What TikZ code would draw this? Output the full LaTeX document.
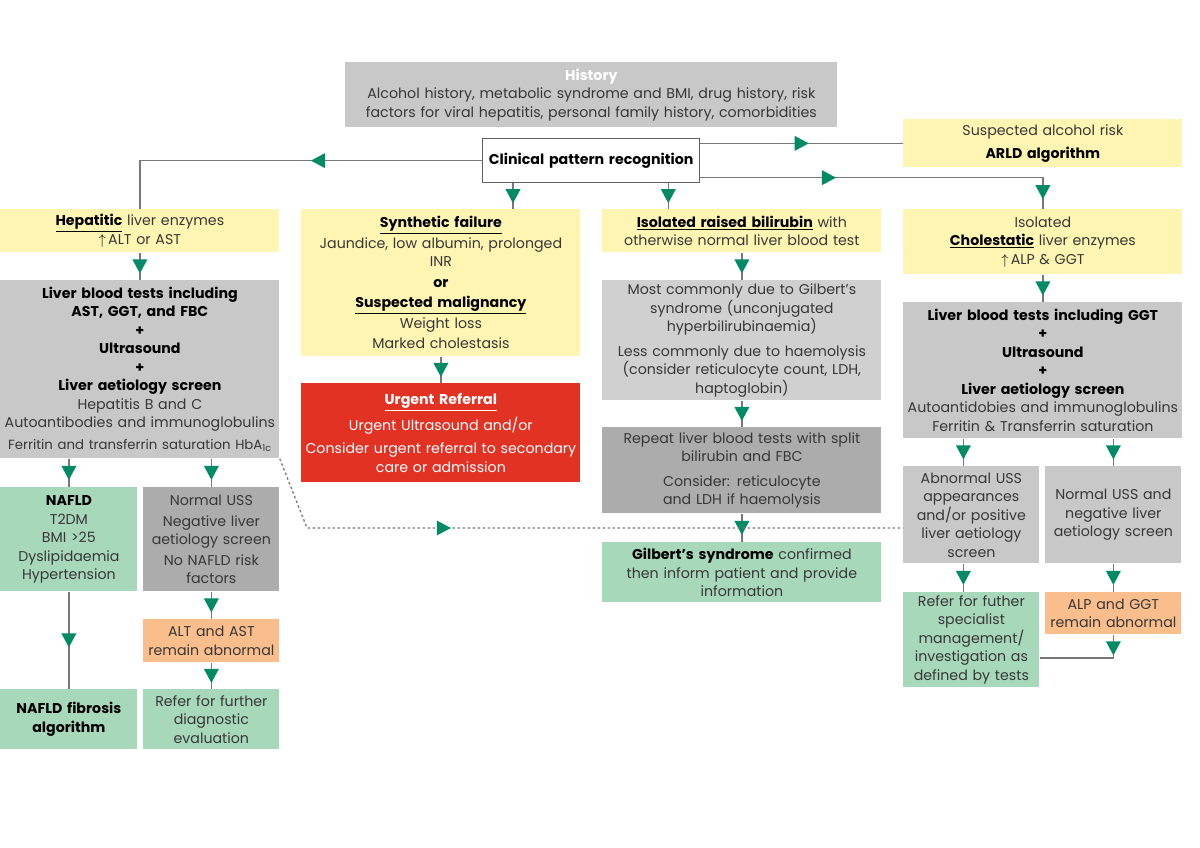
\documentclass[tikz,border=0pt]{standalone}
\usepackage{fontspec}
\setmainfont{Poppins}
\usetikzlibrary{decorations.markings}

\definecolor{boxyellow}{RGB}{255,245,178}
\definecolor{boxgray}{RGB}{200,200,200}
\definecolor{boxlight}{RGB}{208,208,208}
\definecolor{boxdark}{RGB}{172,172,172}
\definecolor{boxgreen}{RGB}{168,216,186}
\definecolor{boxorange}{RGB}{250,190,140}
\definecolor{boxred}{RGB}{226,50,36}
\definecolor{arrowgreen}{RGB}{0,138,102}
\definecolor{linegray}{RGB}{120,120,120}
\definecolor{txtgray}{RGB}{55,55,55}

\newcommand{\bhead}[1]{{\color{black}\bfseries #1}}
\newcommand{\uhead}[1]{{\color{black}\underline{\bfseries #1}}}

\tikzset{every picture/.style={line width=0.75pt}}
\tikzset{
  box/.style={anchor=north west, inner xsep=0pt, inner ysep=2pt, align=center,
    text=txtgray, font=\fontsize{14.2}{18.5}\selectfont},
  ybox/.style={box, fill=boxyellow},
  gbox/.style={box, fill=boxgray},
  lbox/.style={box, fill=boxlight},
  dbox/.style={box, fill=boxdark},
  grbox/.style={box, fill=boxgreen},
  obox/.style={box, fill=boxorange},
  rbox/.style={box, fill=boxred, text=white},
  conn/.style={draw=linegray, line width=1.3pt},
  arrowat/.style={postaction={decorate, decoration={markings,
    mark=at position #1 with {\fill[arrowgreen] (7pt,0) -- (-7pt,7.5pt) -- (-7pt,-7.5pt) -- cycle;}}}},
  flow/.style={conn, arrowat=#1},
  flow/.default=0.5,
  dashconn/.style={conn, dash pattern=on 2.5pt off 2.5pt}
}

\begin{document}
\begin{tikzpicture}[x=1pt,y=1pt,yscale=-1,xscale=1]
\useasboundingbox[fill=white] (0,0) rectangle (1200,848);

% Top row
\node[gbox, text width=492pt, minimum height=65pt] (hist) at (345,62)
  {{\color{white}\bfseries History}\\
   Alcohol history, metabolic syndrome and BMI, drug history, risk\\
   factors for viral hepatitis, personal family history, comorbidities};
\node[box, draw=linegray!80!black, line width=1.3pt, fill=white, text width=217pt, minimum height=44pt] (cpr) at (482,138)
  {\bhead{Clinical pattern recognition}};
\node[ybox, text width=279pt, minimum height=48pt] (alc) at (903,119)
  {Suspected alcohol risk\\[4pt] \bhead{ARLD algorithm}};

% Hepatitic column
\node[ybox, text width=279pt, minimum height=43pt] (hep) at (0,209)
  {\uhead{Hepatitic} liver enzymes\\ {\color{black}$\uparrow$}\,ALT or AST};
\node[gbox, text width=279pt, minimum height=178pt] (lbt) at (0,280)
  {\bhead{Liver blood tests including}\\ \bhead{AST, GGT, and FBC}\\ \bhead{+}\\ \bhead{Ultrasound}\\
   \bhead{+}\\ \bhead{Liver aetiology screen}\\ Hepatitis B and C\\ Autoantibodies and immunoglobulins\\[3pt]
   \mbox{\fontsize{13.3}{18.5}\selectfont Ferritin and transferrin saturation HbA\textsubscript{1c}}};
\node[grbox, text width=137pt, minimum height=104pt] (nafld) at (0,487)
  {\bhead{NAFLD}\\ T2DM\\ BMI >25\\ Dyslipidaemia\\ Hypertension};
\node[dbox, text width=136pt, minimum height=104pt] (nrml) at (143,487)
  {Normal USS\\[2pt] Negative liver\\ aetiology screen\\[2pt] No NAFLD risk\\ factors};
\node[obox, text width=136pt, minimum height=43pt] (alt) at (143,619)
  {ALT and AST\\ remain abnormal};
\node[grbox, text width=137pt, minimum height=60pt] (fib) at (0,689)
  {\bhead{NAFLD fibrosis}\\ \bhead{algorithm}};
\node[grbox, text width=136pt, minimum height=60pt] (refd) at (143,689)
  {Refer for further\\ diagnostic\\ evaluation};

% Synthetic failure column
\node[ybox, text width=279pt, minimum height=147pt] (syn) at (301,209)
  {\uhead{Synthetic failure}\\[2pt] Jaundice, low albumin, prolonged\\ INR\\[2pt] \bhead{or}\\[2pt]
   \uhead{Suspected malignancy}\\[2pt] Weight loss\\[2pt] Marked cholestasis};
\node[rbox, text width=279pt, minimum height=99pt] (urg) at (301,383)
  {{\color{white}\underline{\bfseries Urgent Referral}}\\[5pt] Urgent Ultrasound and/or\\[5pt]
   Consider urgent referral to secondary\\ care or admission};

% Bilirubin column
\node[ybox, text width=279pt, minimum height=43pt] (bil) at (602,209)
  {\uhead{Isolated raised bilirubin} with\\ otherwise normal liver blood test};
\node[lbox, text width=279pt, minimum height=120pt] (most) at (602,280)
  {Most commonly due to Gilbert's\\ syndrome (unconjugated\\ hyperbilirubinaemia)\\[6pt]
   Less commonly due to haemolysis\\ (consider reticulocyte count, LDH,\\ haptoglobin)};
\node[dbox, text width=279pt, minimum height=86pt] (rep) at (602,427)
  {Repeat liver blood tests with split\\ bilirubin and FBC\\[6pt] Consider: reticulocyte\\ and LDH if haemolysis};
\node[grbox, text width=279pt, minimum height=60pt] (gil) at (602,542)
  {\bhead{Gilbert's syndrome} confirmed\\ then inform patient and provide\\ information};

% Cholestatic column
\node[ybox, text width=279pt, minimum height=65pt] (chol) at (903,209)
  {Isolated\\ \uhead{Cholestatic} liver enzymes\\ {\color{black}$\uparrow$}\,ALP \& GGT};
\node[gbox, text width=279pt, minimum height=136pt] (ggt) at (903,302)
  {\bhead{Liver blood tests including GGT}\\ \bhead{+}\\ \bhead{Ultrasound}\\ \bhead{+}\\
   \bhead{Liver aetiology screen}\\ Autoantidobies and immunoglobulins\\ Ferritin \& Transferrin saturation};
\node[gbox, text width=136pt, minimum height=97pt] (abn) at (903,466)
  {Abnormal USS\\ appearances\\ and/or positive\\ liver aetiology\\ screen};
\node[gbox, text width=136pt, minimum height=97pt] (nrmr) at (1045,466)
  {Normal USS and\\ negative liver\\ aetiology screen};
\node[grbox, text width=136pt, minimum height=95pt] (reft) at (903,592)
  {Refer for futher\\ specialist\\ management/\\ investigation as\\ defined by tests};
\node[obox, text width=136pt, minimum height=42pt] (alp) at (1045,592)
  {ALP and GGT\\ remain abnormal};

% Connectors from clinical pattern recognition
\draw[conn, arrowat=0.42] (cpr.west) -| (hep.north);
\draw[flow] (cpr.east |- alc.west) -- (alc.west);
\draw[conn, arrowat=0.344, arrowat=0.955] ([yshift=17pt]cpr.east) -| (chol.north);
\draw[flow] ([xshift=31pt]cpr.south west) -- ([xshift=31pt]cpr.south west |- syn.north);
\draw[flow] ([xshift=-32pt]cpr.south east) -- ([xshift=-32pt]cpr.south east |- bil.north);

% Hepatitic column
\draw[flow] (hep) -- (lbt);
\draw[flow] (nafld.north |- lbt.south) -- (nafld.north);
\draw[flow] (nrml.north |- lbt.south) -- (nrml.north);
\draw[flow] (nafld) -- (fib);
\draw[flow] (nrml) -- (alt);
\draw[flow] (alt) -- (refd);

% Synthetic and bilirubin columns
\draw[flow] (syn) -- (urg);
\draw[flow] (bil) -- (most);
\draw[flow] (most) -- (rep);
\draw[flow] (rep) -- (gil);

% Cholestatic column
\draw[flow] (chol) -- (ggt);
\draw[flow] ([xshift=-8pt]abn.north |- ggt.south) -- ([xshift=-8pt]abn.north);
\draw[flow] (nrmr.north |- ggt.south) -- (nrmr.north);
\draw[flow] ([xshift=-8pt]abn.south) -- ([xshift=-8pt]abn.south |- reft.north);
\draw[flow] (nrmr) -- (alp);
\draw[conn, arrowat=0.14] (alp.south) |- ([yshift=18pt]reft.east);

% Dashed link
\coordinate (dashbend) at (307,528);
\draw[dashconn, arrowat=0.315] (lbt.south east) -- (dashbend) -- (abn.west |- dashbend);

\end{tikzpicture}
\end{document}
